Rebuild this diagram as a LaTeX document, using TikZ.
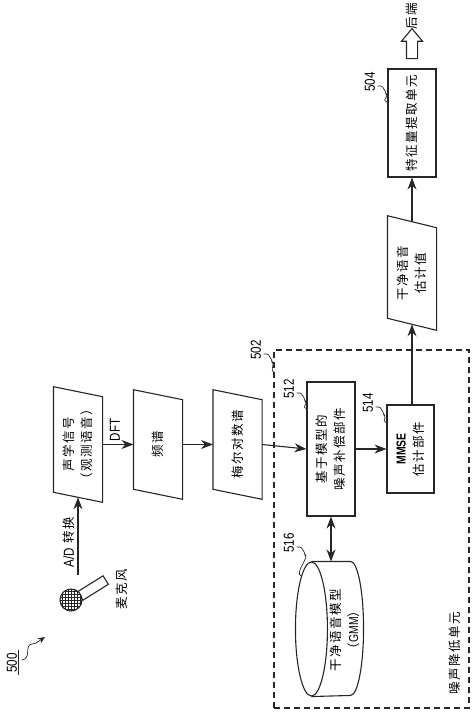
\documentclass[tikz,border=0pt]{standalone}
\usepackage{fontspec}
\newfontfamily\cjk[LetterSpace=12]{Noto Sans CJK SC}
\newfontfamily\narrow[FakeStretch=0.8]{Liberation Sans}
\usetikzlibrary{arrows.meta,shapes.arrows}
\begin{document}
\begin{tikzpicture}[x=1pt, y=-1pt, line width=1.1pt, draw=black!85,
  >={Stealth[length=12pt,width=9pt]},
  font=\cjk\fontsize{12.5}{18}\selectfont,
  slanted/.style={rotate=90, minimum width=104pt, minimum height=48pt, inner sep=0pt, align=center},
  unit/.style={draw, rotate=90, inner sep=0pt, align=center},
  lab/.style={rotate=90, inner sep=0pt, font=\narrow\fontsize{14.5}{16}\selectfont},
  squig/.style={line width=0.7pt}]
\useasboundingbox (0,0) rectangle (474,713);
% frame of the noise unit
\node[draw, dash pattern=on 6pt off 4pt, minimum width=195pt, minimum height=358pt, inner sep=0pt] (noise) at (371.5,529) {};
\node[rotate=90, inner sep=0pt] (noisetxt) at (455,653) {噪声降低单元};
% slanted data boxes
\foreach \name/\x/\y/\len/\cut/\txt in {sig/78/444.5/104.5/5/{声学信号\\（观测语音）}, spec/158/444.5/98.5/5/{频谱}, mel/237.5/444.5/98.5/5/{梅尔对数谱}, clean/412/273/101.5/6/{干净语音\\估计值}} {
  \node[slanted, minimum width=\len pt] (\name) at (\x,\y) {\txt};
  \draw ([yshift=\cut pt]\name.north west) -- ([yshift=\cut pt]\name.north east)
     -- ([yshift=-\cut pt]\name.south east) -- ([yshift=-\cut pt]\name.south west) -- cycle;
}
% processing units
\node[unit, minimum width=134pt, minimum height=48pt] (comp) at (331,449) {基于模型的\\噪声补偿部件};
\node[unit, minimum width=88pt, minimum height=47pt] (mmse) at (410.5,449) {{\narrow\bfseries\fontsize{13}{16}\selectfont MMSE}\\估计部件};
\node[unit, minimum width=108pt, minimum height=48pt] (feat) at (412,123) {特征量提取单元};
% database
\node[rotate=90, minimum width=134pt, minimum height=38pt, inner sep=0pt] (gmm) at (331,629) {};
\draw (gmm.north) ellipse[x radius=16pt, y radius=67pt];
\draw (gmm.north east) -- (gmm.south east) arc[start angle=90, end angle=-90, x radius=13pt, y radius=67pt] -- (gmm.north west);
\node[rotate=90, inner sep=0pt, align=center] (gmmtxt) at (344.5,630) {干净语音模型\\（{\narrow\fontsize{13}{16}\selectfont GMM}）};
% microphone
\node[draw, rotate=32, minimum width=30pt, minimum height=10pt, inner sep=0pt] (handle) at (93,588) {};
\node[draw, circle, fill=white, minimum size=22pt, inner sep=0pt, path picture={
  \foreach \d in {-9,-6,...,9} {
    \draw[line width=0.5pt] ([xshift=\d pt]path picture bounding box.north) -- ([xshift=\d pt]path picture bounding box.south);
    \draw[line width=0.5pt] ([yshift=\d pt]path picture bounding box.west) -- ([yshift=\d pt]path picture bounding box.east);
  }}] (mic) at (71,600) {};
\node[rotate=90, inner sep=0pt] (mictxt) at (122,589) {麦克风};
\coordinate (micout) at (78,575);
% output arrow
\node[draw, single arrow, rotate=90, inner xsep=0pt, inner ysep=5pt, minimum height=30pt, minimum width=20pt, single arrow head extend=5pt, single arrow tip angle=80] (back) at (412,47) {};
\node[rotate=90, inner sep=0pt] (backtxt) at (412,16) {后端};
% connectors
\draw[->] (micout) -- (micout |- sig.west);
\draw[->] (sig.south) -- (spec.north);
\draw[->] (spec.south) -- (mel.north);
\draw[->] (mel.south) -- (comp.north);
\draw[->] (comp.south) -- (comp.south -| mmse.north);
\draw[->] (mmse.east -| clean.west) -- (clean.west);
\draw[->] (clean.east) -- (feat.west);
\draw[<->] (comp.west) -- (gmm.east);
\node[rotate=90, inner sep=0pt] (adtxt) at (69,542) {{\narrow\fontsize{14.5}{16}\selectfont A/D} 转换};
\node[lab] (dfttxt) at (115,430) {DFT};
% reference numbers
\node[lab] (l500) at (12,663) {500};
\draw[line width=0.8pt] (18,650) -- (18,675);
\coordinate (a500) at (45,637);
\draw[squig, ->, >={Stealth[length=7pt,width=6pt]}] (22,660) .. controls (32,658) and (24,645) .. (32,644) .. controls (36,644) and (36,643) .. (a500);
\foreach \name/\x/\y/\tox/\toy/\txt in {l502/256/350/275/373/502, l504/370/82/387/102/504, l512/289/389/307/409/512, l514/368/403/387/423/514, l516/289/543/301/576/516} {
  \node[lab] (\name) at (\x,\y) {\txt};
  \coordinate (\name end) at (\tox,\toy);
  \draw[squig] ([xshift=2pt,yshift=-4pt]\name.south) .. controls +(9,-2) and +(-1,5) .. ++(9,8) .. controls +(2,4) and +(-6,-3) .. (\name end);
}
\end{tikzpicture}
\end{document}
